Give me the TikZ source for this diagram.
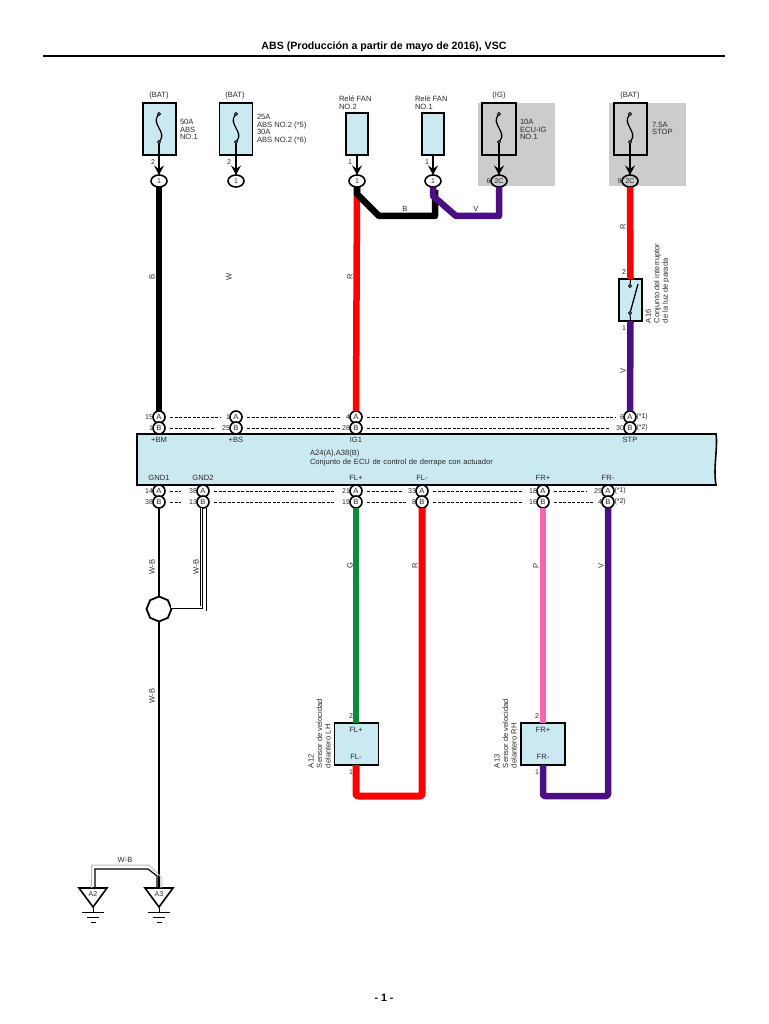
\documentclass[tikz,border=0pt]{standalone}
\usepackage{fontspec}
\setmainfont{Liberation Sans}
\usetikzlibrary{arrows.meta,positioning,shapes.geometric}
\definecolor{boxblue}{HTML}{CBE9F1}
\definecolor{fusegray}{HTML}{CCCCCC}
\definecolor{wireG}{HTML}{0A8A3C}
\definecolor{wireP}{HTML}{F765B2}
\definecolor{wireV}{HTML}{4B0F82}
\definecolor{inkgray}{HTML}{2A2A2A}
\tikzset{
  txt/.style={font=\fontsize{7.6}{7.6}\selectfont,text=inkgray,inner sep=0pt,outer sep=0pt},
  side/.style={txt,align=left,anchor=west},
  rot/.style={txt,rotate=90},
  rotside/.style={txt,font=\fontsize{7.6}{8.4}\selectfont,rotate=90,align=left,anchor=west},
  box/.style={draw=black,line width=1.6pt,fill=boxblue,inner sep=0pt,outer sep=0pt},
  oval/.style={draw=black,line width=1.6pt,fill=white,ellipse,minimum width=16pt,minimum height=12pt,inner sep=0pt,outer sep=0pt,font=\fontsize{7}{7}\selectfont,text=inkgray},
  pin/.style={draw=black,line width=1.6pt,fill=white,circle,minimum size=12pt,inner sep=0pt,outer sep=0pt,font=\fontsize{7.6}{7.6}\selectfont,text=inkgray},
  num/.style={txt,font=\fontsize{7}{7}\selectfont},
  tap/.style={draw=black,line width=.8pt,fill=white,circle,minimum size=3pt,inner sep=0pt,outer sep=0pt},
  feed/.style={line width=1.3pt,-{Stealth[length=9.5pt,width=10pt,inset=3.5pt]}},
  wire/.style={line width=6.5pt,line join=round},
  thin wire/.style={line width=2pt},
  link/.style={line width=1pt,dash pattern=on 3.2pt off 1.3pt,shorten <=5pt}
}
\begin{document}
\begin{tikzpicture}[x=1pt,y=-1pt]
\useasboundingbox (0,0) rectangle (768,1024);
\draw[line width=1.3pt] (43,56) -- (725,56);
\node[txt,font=\fontsize{10.6}{11}\selectfont\bfseries,text=black] (title) at (384,47) {ABS (Producción a partir de mayo de 2016), VSC};
\node[txt,font=\fontsize{10.6}{11}\selectfont\bfseries,text=black] (page) at (384,998) {- 1 -};

\fill[fusegray] (478,103) rectangle (555,186);
\fill[fusegray] (609,103) rectangle (686,186);

\node[box,minimum width=33pt,minimum height=52pt] (f1) at (159.5,129) {};
\node[box,minimum width=33pt,minimum height=52pt] (f2) at (236,129) {};
\node[box,fill=fusegray,minimum width=34pt,minimum height=52pt] (f3) at (499,129) {};
\node[box,fill=fusegray,minimum width=33pt,minimum height=52pt] (f4) at (630.5,129) {};
\node[box,minimum width=22pt,minimum height=42pt] (r2) at (357,134) {};
\node[box,minimum width=22pt,minimum height=42pt] (r1) at (433,134) {};

\node[oval] (e1) at (159,181) {1};
\node[oval] (e2) at (236,181) {1};
\node[oval] (e3) at (357,181) {1};
\node[oval] (e4) at (433,181) {1};
\node[oval,fill=fusegray] (e5) at (499,181) {2C};
\node[oval,fill=fusegray] (e6) at (630,181) {2C};

\foreach \n/\x/\e in {f1/159/e1,f2/236/e2,f3/499/e5,f4/630/e6}{
  \node[tap] (\n t) at (\x,114) {};
  \node[tap] (\n b) at (\x,142) {};
  \draw[line width=1.3pt] (\n t) .. controls +(-8,10) and +(8,-10) .. (\n b);
  \draw[feed] (\n b) -- (\e.north);
}
\draw[feed] (r2.south) -- (e3.north);
\draw[feed] (r1.south) -- (e4.north);

\node[txt] (b1) at (159,96) {(BAT)};
\node[txt] (b2) at (235,96) {(BAT)};
\node[txt] (b3) at (499,96) {(IG)};
\node[txt] (b4) at (630,96) {(BAT)};
\node[side] (s1) at (180,129.5) {50A\\ABS\\NO.1};
\node[side] (s2) at (257,129) {25A\\ABS NO.2 (*5)\\30A\\ABS NO.2 (*6)};
\node[side] (s3) at (520,129.5) {10A\\ECU-IG\\NO.1};
\node[side] (s4) at (652,128.5) {7.5A\\STOP};
\node[side] (s5) at (339,102.5) {Relé FAN\\NO.2};
\node[side] (s6) at (415,102.5) {Relé FAN\\NO.1};
\node[num] (n1) at (153,162) {2};
\node[num] (n2) at (229,162) {2};
\node[num] (n3) at (350,162) {1};
\node[num] (n4) at (427,162) {1};
\node[num,left=.5pt of e5] (n5) {6};
\node[num,left=.5pt of e6] (n6) {9};

\foreach \n/\x/\a/\b in {p1/159/15/1,p2/236/1/25,p3/356/4/28,p4/630/6/30}{
  \node[pin] (\n a) at (\x,417) {A};
  \node[pin] (\n b) at (\x,428) {B};
  \node[num,left=0pt of \n a] (\n x) {\a};
  \node[num,left=0pt of \n b] (\n y) {\b};
}
\foreach \n/\x/\a/\b in {q1/159/14/38,q2/203/38/13,q3/356/21/19,q4/422/33/8,q5/543/18/16,q6/608/29/4}{
  \node[pin] (\n a) at (\x,491) {A};
  \node[pin] (\n b) at (\x,502) {B};
  \node[num,left=0pt of \n a] (\n x) {\a};
  \node[num,left=0pt of \n b] (\n y) {\b};
}
\node[num,right=.5pt of p4a] (m1) {(*1)};
\node[num,right=.5pt of p4b] (m2) {(*2)};
\node[num,right=.5pt of q6a] (m3) {(*1)};
\node[num,right=.5pt of q6b] (m4) {(*2)};

\foreach \p/\q/\s in {p1a/p2a/10,p2a/p3a/10,p3a/p4a/9,p1b/p2b/15,p2b/p3b/10,p3b/p4b/15,q1a/q2a/16,q2a/q3a/15,q3a/q4a/14,q4a/q5a/15,q5a/q6a/15,q1b/q2b/16,q2b/q3b/15,q3b/q4b/9,q4b/q5b/15,q5b/q6b/9}{
  \draw[link,shorten >=\s pt] (\p) -- (\q);
}

\draw[box] (137,434) -- (716,434) .. controls (718,448) and (713,468) .. (716,485) -- (137,485) -- cycle;
\node[txt] (t1) at (159,440) {+BM};
\node[txt] (t2) at (236,440) {+BS};
\node[txt] (t3) at (356,440) {IG1};
\node[txt] (t4) at (630,440) {STP};
\node[txt] (t5) at (159,478) {GND1};
\node[txt] (t6) at (203,478) {GND2};
\node[txt] (t7) at (356,478) {FL+};
\node[txt] (t8) at (422,478) {FL-};
\node[txt] (t9) at (543,478) {FR+};
\node[txt] (t10) at (608,478) {FR-};
\node[side,text width=200pt] (ecu) at (310,458.5) {A24(A),A38(B)\\[1.4pt]Conjunto de ECU de control de derrape con actuador};

\node[box,minimum width=23pt,minimum height=42pt] (sw) at (630.5,300) {};
\node[tap] (swt) at (630,286) {};
\node[tap] (swb) at (630,313) {};
\draw[line width=1.3pt] (swb) -- (638,284);
\draw[line width=1pt] (sw.north) -- (swt);
\draw[line width=1pt] (sw.south) -- (swb);
\node[rotside] (swl) at (657.5,323) {A16\\Conjunto del interruptor\\de la luz de parada};
\node[num] (n7) at (624,272) {2};
\node[num] (n8) at (624,328) {1};

\node[box,minimum width=44pt,minimum height=42pt] (s12) at (356.5,744) {};
\node[box,minimum width=44pt,minimum height=42pt] (s13) at (543,744) {};
\node[txt] (s12a) at (356,730) {FL+};
\node[txt] (s12b) at (356,757) {FL-};
\node[txt] (s13a) at (543,730) {FR+};
\node[txt] (s13b) at (543,757) {FR-};
\node[rotside] (s12l) at (319.5,768) {A12\\Sensor de velocidad\\delantero LH};
\node[rotside] (s13l) at (505.5,768) {A13\\Sensor de velocidad\\delantero RH};
\node[num] (n9) at (351,716) {2};
\node[num] (n10) at (351,772) {1};
\node[num] (n11) at (537,716) {2};
\node[num] (n12) at (537,772) {1};

\draw[wire] (e1.south) -- (p1a.north);
\draw[wire,red] (e3.south) -- (p3a.north);
\coordinate (j3) at (357,194);
\coordinate (j4) at (435,190);
\draw[wire] (e3.south) -- (j3) -- (379,216) -- (435,216) -- (j4);
\draw[wire,wireV] (e4.south) -- (433,196) -- (456,216) -- (499,216) -- (e5.south);
\draw[wire,red] (e6.south) -- (sw.north);
\draw[wire,wireV] (sw.south) -- (p4a.north);
\draw[wire,wireG] (q3b.south) -- (s12.north -| q3b);
\draw[wire,wireP] (q5b.south) -- (s13.north);
\draw[wire,red,line width=7pt,rounded corners=2pt] (s12.south -| q3b) -- (356,796) -- (422,796) -- (q4b.south);
\draw[wire,wireV,rounded corners=2pt] (s13.south) -- (543,796) -- (608,796) -- (q6b.south);

\node[rot] (w1) at (152,277) {B};
\node[rot] (w2) at (229,277) {W};
\node[rot] (w3) at (350,277) {R};
\node[rot] (w4) at (623,227) {R};
\node[rot] (w5) at (623,371) {V};
\node[rot] (w6) at (152,567) {W-B};
\node[rot] (w7) at (196,567) {W-B};
\node[rot] (w8) at (152,696) {W-B};
\node[rot] (w9) at (350,566) {G};
\node[rot] (w10) at (415,566) {R};
\node[rot] (w11) at (536,566) {P};
\node[rot] (w12) at (601,566) {V};
\node[txt] (w13) at (405,209) {B};
\node[txt] (w14) at (476,209) {V};
\node[txt] (w15) at (125,860) {W-B};

\node[draw=black,line width=1.8pt,fill=white,regular polygon,regular polygon sides=8,shape border rotate=22.5,minimum size=25pt,inner sep=0pt,outer sep=0pt] (joint) at (159,609) {};
\draw[thin wire] (q1b.south) -- (joint.north);
\coordinate (q2u) at (201.5,508);
\coordinate (q2c) at (201.5,607);
\coordinate (q2j) at (171,607);
\coordinate (q2v) at (206,508);
\coordinate (q2s) at (206,611);
\draw[line width=.8pt,double=white,double distance=1.4pt] (q2u) -- (q2c) -- (q2j);
\draw[line width=.8pt] (q2v) -- (q2s);

\foreach \n/\x in {A2/93,A3/159}{
\begin{scope}[xshift=\x pt]
\draw[line width=1.6pt,fill=white,line join=miter] (-14,888) -- (14,888) -- (0,907) -- cycle;
\node[num] (\n) at (0,894) {\n};
\coordinate (\n t) at (0,888);
\draw[line width=1pt] (0,907) -- (0,912);
\draw[line width=1pt] (-11,912) -- (11,912);
\draw[line width=1pt] (-6,917) -- (6,917);
\draw[line width=1pt] (-2.5,922) -- (2.5,922);
\end{scope}
}
\draw[thin wire] (joint.south) -- (A3t);
\draw[line width=1pt,gray!55] (91.5,888) -- (91.5,865) -- (149,865) -- (161,877) -- (161,888);
\draw[line width=1.2pt] (95,888) -- (95,869) -- (148,869) -- (157,876) -- (157,888);
\end{tikzpicture}
\end{document}
